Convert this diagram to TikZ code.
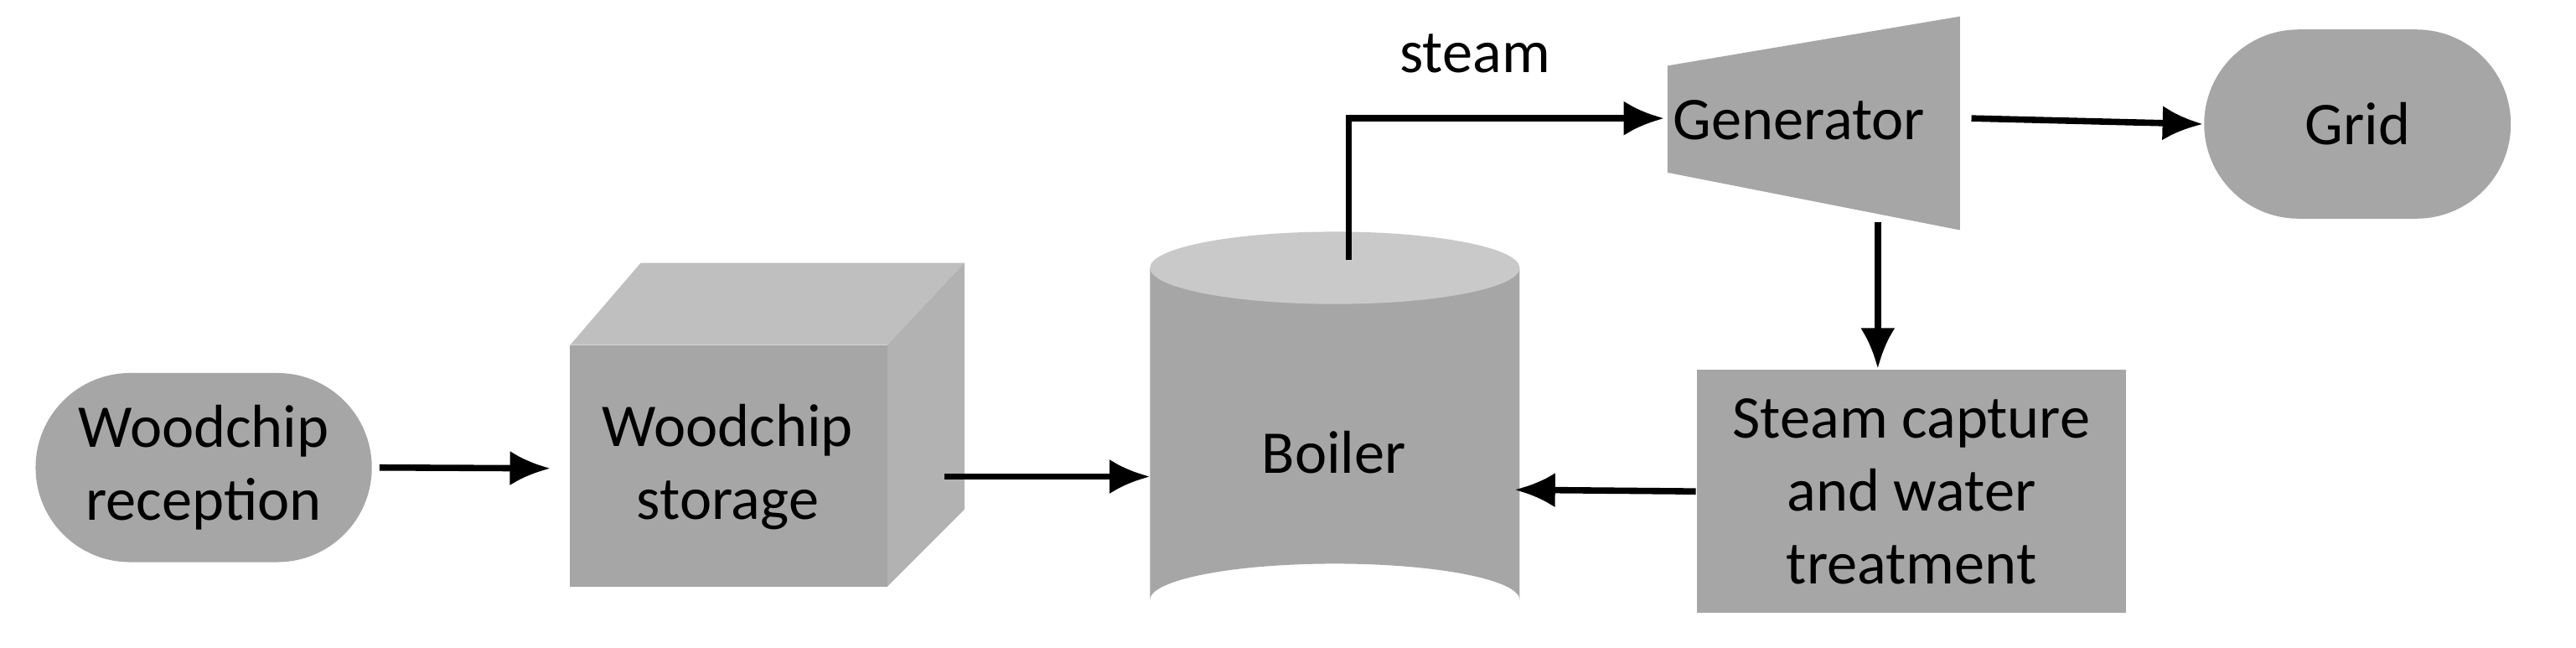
\documentclass[tikz,border=0pt]{standalone}
\usepackage{fontspec}
\setmainfont{Carlito}
\usetikzlibrary{arrows.meta,shapes.misc,shapes.geometric}
\begin{document}
\begin{tikzpicture}[x=0.01cm,y=-0.01cm,
  txt/.style={font=\fontsize{10.5}{12.6}\selectfont,align=center,text=black},
  box/.style={fill=gray!70!white,draw=none},
  arr/.style={-{Latex[length=7pt,width=6pt]},line width=1.1pt},
  font=\fontsize{10.5}{12.6}\selectfont]
\useasboundingbox (0,0) rectangle (1568,394);
% Woodchip reception
\node[box,rounded rectangle,minimum width=2.28cm,minimum height=1.15cm,txt] (rec) at (124,284.5) {Woodchip\\reception};
% storage cube
\fill[gray!50] (347,210) -- (390,160) -- (587,160) -- (540,210) -- cycle;
\fill[gray!100!black!60] (540,210) -- (587,160) -- (587,310) -- (540,357) -- cycle;
\fill[gray!70] (347,210) rectangle (540,357);
\node[txt] (sto) at (443,284) {Woodchip\\storage};
\coordinate (stoR) at (575,290);
% boiler
\fill[gray!70] (700,163) -- (700,365) arc[start angle=180,end angle=360,x radius=112.5,y radius=22] -- (925,163) -- cycle;
\fill[gray!42] (812.5,163) ellipse[x radius=112.5,y radius=22];
\node[txt] (boi) at (812,275) {Boiler};
\coordinate (boiL) at (700,290);
\coordinate (boiR) at (922,298);
\coordinate (boiT) at (821,158);
% generator
\fill[gray!70] (1015,40) -- (1193,10) -- (1193,140) -- (1015,105) -- cycle;
\node[txt] (gen) at (1095,73) {Generator};
\coordinate (genL) at (1013,72);
\coordinate (genR) at (1200,72);
\coordinate (genB) at (1143,135);
% grid
\node[box,rounded rectangle,minimum width=2.1cm,minimum height=1.15cm,txt] (grid) at (1435,75.5) {Grid};
% steam capture
\node[box,minimum width=2.61cm,minimum height=1.48cm,txt] (cap) at (1163.5,299) {Steam capture\\and water\\treatment};
% arrows
\draw[arr] (rec.east) ++(4,0) coordinate (recR) (recR) -- (335,285) coordinate (stoL);
\draw[arr] (stoR) -- (boiL);
\draw[arr] (boiT) -- (821,72) -- node[above,pos=0.4,txt,yshift=4pt]{steam} (genL);
\draw[arr] (genR) -- (grid.west);
\draw[arr] (genB) -- (cap.north -| genB);
\draw[arr] (cap.west) -- (boiR);
\end{tikzpicture}
\end{document}
